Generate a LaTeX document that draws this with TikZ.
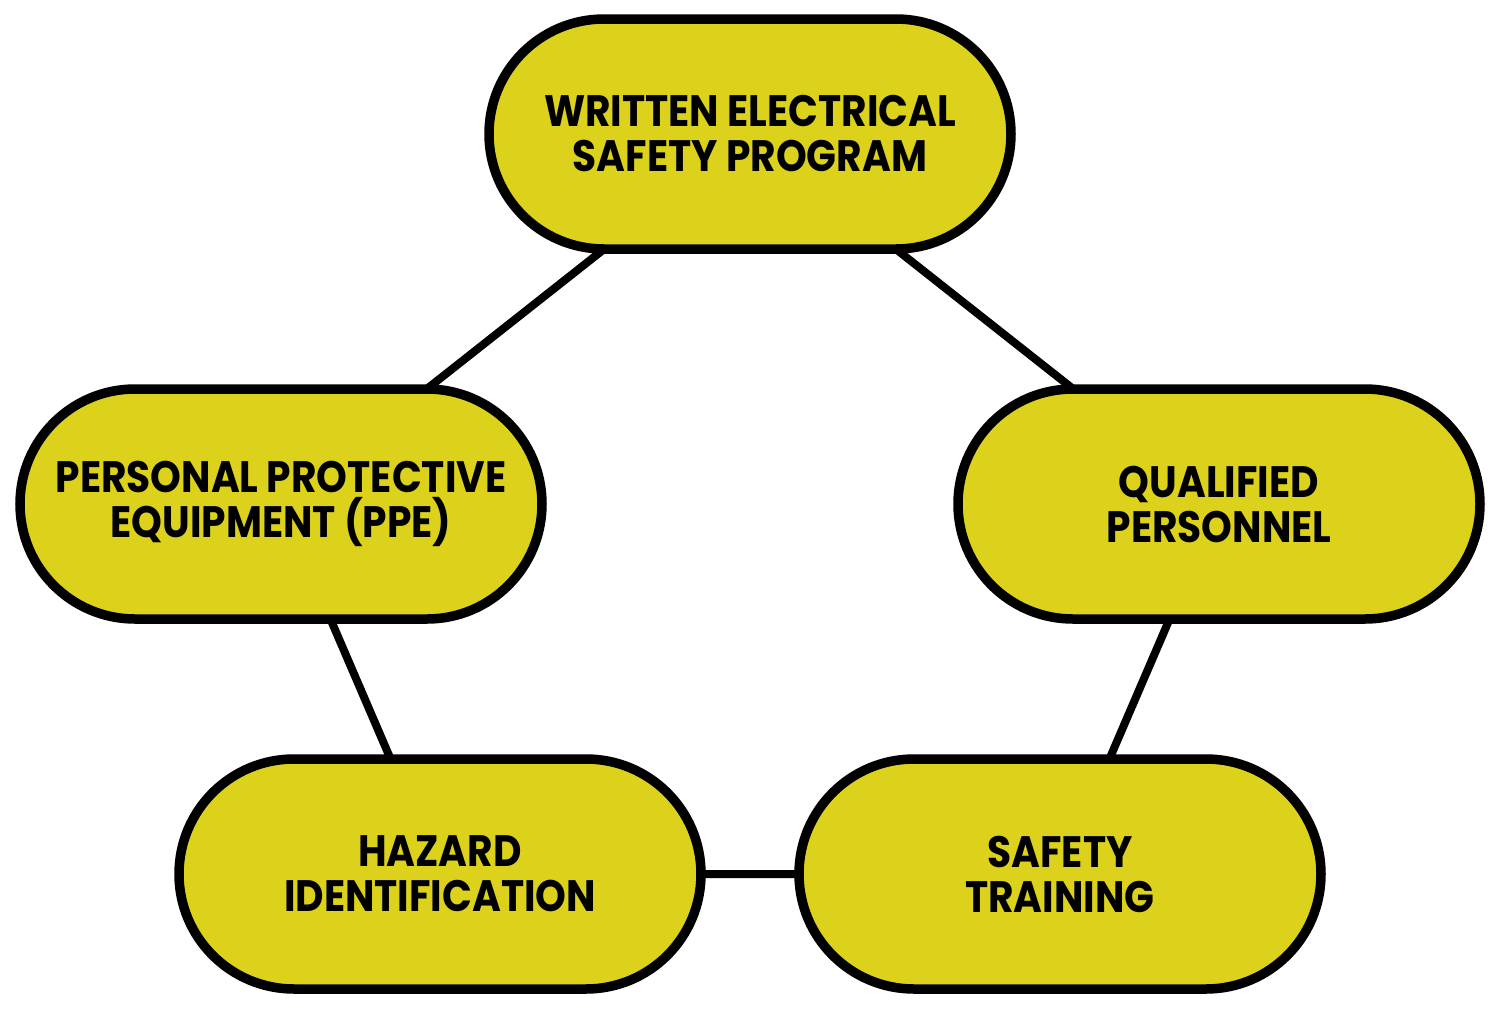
\documentclass[tikz,border=0pt]{standalone}
\usepackage{fontspec}
\newfontfamily\lblfont{Poppins}[FakeStretch=0.89]
\usetikzlibrary{shapes.misc,backgrounds}
\definecolor{pillyellow}{RGB}{220,210,28}
\tikzset{
  pill/.style={rounded rectangle, draw=black, line width=9.5pt, fill=pillyellow,
    minimum width=522pt, minimum height=230pt, inner sep=0pt, align=center,
    font=\lblfont\bfseries\fontsize{44}{45}\selectfont},
  link/.style={line width=8pt, draw=black, shorten <=-6pt, shorten >=-6pt}
}
\begin{document}
\begin{tikzpicture}[x=1pt,y=-1pt]
\useasboundingbox (0,0) rectangle (1500,1010);
\node[pill] (wesp) at (750,134) {WRITTEN ELECTRICAL\\SAFETY PROGRAM};
\node[pill] (ppe) at (281,504) {PERSONAL PROTECTIVE\\EQUIPMENT (PPE)};
\node[pill] (qp) at (1219,504) {QUALIFIED\\PERSONNEL};
\node[pill] (hi) at (440,874) {HAZARD\\IDENTIFICATION};
\node[pill] (st) at (1060,874) {SAFETY\\TRAINING};
\begin{scope}[on background layer]
\draw[link] (wesp) -- (ppe);
\draw[link] (wesp) -- (qp);
\draw[link] (ppe) -- (hi);
\draw[link] (qp) -- (st);
\draw[link] (hi) -- (st);
\end{scope}
\end{tikzpicture}
\end{document}
